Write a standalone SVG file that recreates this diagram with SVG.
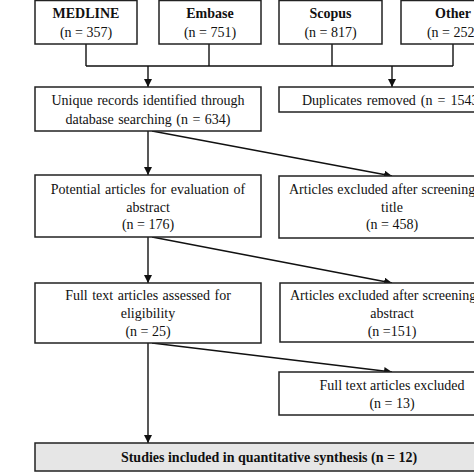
<svg xmlns="http://www.w3.org/2000/svg" width="474" height="474" viewBox="0 0 474 474">
<defs>
<style>
.box{fill:#fff;stroke:#222;stroke-width:1.5}
.final{fill:#e6e6e6;stroke:#222;stroke-width:1.5}
.t{font-family:"Liberation Serif","Times New Roman",serif;font-size:14px;fill:#111;text-anchor:middle}
.b{font-weight:bold}
.st{text-anchor:start}
.ln{fill:none;stroke:#111;stroke-width:1.4}
</style>
<marker id="ah" viewBox="0 0 10 10" refX="10" refY="5" markerWidth="8" markerHeight="8" markerUnits="userSpaceOnUse" orient="auto">
<path d="M0,0 L10,5 L0,10 Z" fill="#111"/>
</marker>
</defs>
<rect width="474" height="474" fill="#fff"/>
<g id="connectors">
<path class="ln" d="M86,44 V66 M209,44 V66 M332,44 V66 M453,44 V66 M86,66 H453"/>
<path class="ln" d="M148,66 V87" marker-end="url(#ah)"/>
<path class="ln" d="M392,66 V87" marker-end="url(#ah)"/>
<path class="ln" d="M148,131 V175" marker-end="url(#ah)"/>
<path class="ln" d="M152,131 L392,176" marker-end="url(#ah)"/>
<path class="ln" d="M148,237 V283" marker-end="url(#ah)"/>
<path class="ln" d="M152,237 L392,283" marker-end="url(#ah)"/>
<path class="ln" d="M148,343 V443" marker-end="url(#ah)"/>
<path class="ln" d="M152,343 L392,372" marker-end="url(#ah)"/>
</g>
<g id="medline">
<rect class="box" x="35" y="0.5" width="102" height="43.5"/>
<text class="t b" x="86" y="18">MEDLINE</text>
<text class="t" x="86" y="37">(n = 357)</text>
</g>
<g id="embase">
<rect class="box" x="159" y="0.5" width="102" height="43.5"/>
<text class="t b" x="210" y="18">Embase</text>
<text class="t" x="210" y="37">(n = 751)</text>
</g>
<g id="scopus">
<rect class="box" x="279" y="0.5" width="103" height="43.5"/>
<text class="t b" x="330.5" y="18">Scopus</text>
<text class="t" x="330.5" y="37">(n = 817)</text>
</g>
<g id="other">
<rect class="box" x="401" y="0.5" width="104" height="43.5"/>
<text class="t b" x="453" y="18">Other</text>
<text class="t" x="453" y="37">(n = 252)</text>
</g>
<g id="unique">
<rect class="box" x="35" y="87" width="226" height="44"/>
<text class="t" x="148" y="105" word-spacing="1">Unique records identified through</text>
<text class="t" x="148" y="124" word-spacing="1">database searching (n = 634)</text>
</g>
<g id="duplicates">
<rect class="box" x="279" y="87" width="226" height="25"/>
<text class="t st" x="302" y="105" word-spacing="1.5">Duplicates removed (n = 1543)</text>
</g>
<g id="potential">
<rect class="box" x="35" y="175" width="226" height="62"/>
<text class="t" x="148" y="194" word-spacing="1">Potential articles for evaluation of</text>
<text class="t" x="148" y="212">abstract</text>
<text class="t" x="148" y="229">(n = 176)</text>
</g>
<g id="excl-title">
<rect class="box" x="279" y="176" width="226" height="62"/>
<text class="t st" x="289" y="194" word-spacing="0.5">Articles excluded after screening</text>
<text class="t" x="392" y="212">title</text>
<text class="t" x="392" y="229">(n = 458)</text>
</g>
<g id="fulltext">
<rect class="box" x="35" y="283" width="226" height="60"/>
<text class="t" x="148" y="300" word-spacing="1">Full text articles assessed for</text>
<text class="t" x="148" y="318">eligibility</text>
<text class="t" x="148" y="336">(n = 25)</text>
</g>
<g id="excl-abstract">
<rect class="box" x="280" y="283" width="225" height="59"/>
<text class="t st" x="290" y="300" word-spacing="0.5">Articles excluded after screening</text>
<text class="t" x="392" y="318">abstract</text>
<text class="t" x="392" y="336">(n =151)</text>
</g>
<g id="excl-fulltext">
<rect class="box" x="279" y="372" width="226" height="43"/>
<text class="t" x="392" y="390">Full text articles excluded</text>
<text class="t" x="392" y="408">(n = 13)</text>
</g>
<g id="included">
<rect class="final" x="35" y="443" width="470" height="28"/>
<text class="t b" x="269" y="462">Studies included in quantitative synthesis (n = 12)</text>
</g>
</svg>
